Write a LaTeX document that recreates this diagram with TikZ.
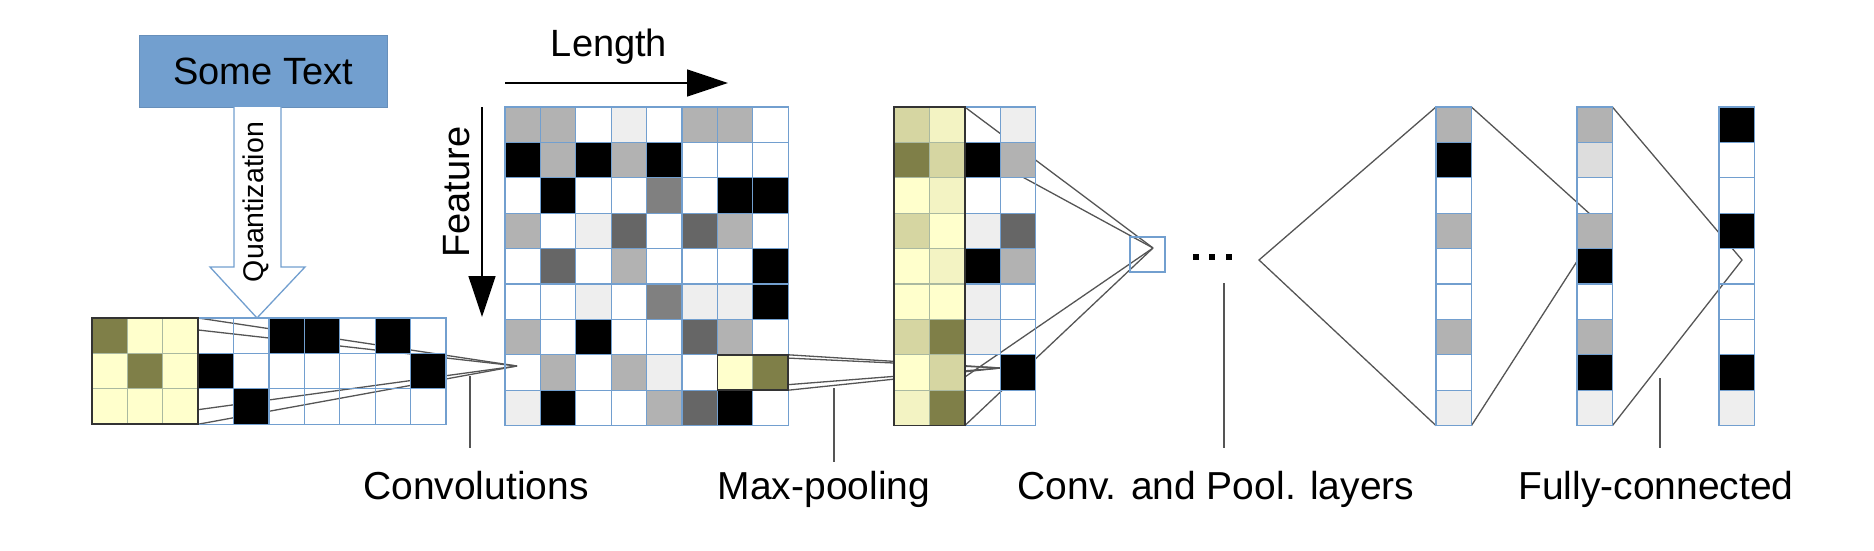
\documentclass[tikz,border=0pt]{standalone}
\usepackage{fontspec}
\setmainfont{Liberation Sans}
\usetikzlibrary{arrows.meta,backgrounds}
\definecolor{gb}{RGB}{114,159,207}
\definecolor{lg}{RGB}{85,85,85}
\definecolor{cG}{RGB}{178,178,178}
\definecolor{cL}{RGB}{238,238,238}
\definecolor{cE}{RGB}{221,221,221}
\definecolor{cM}{RGB}{128,128,128}
\definecolor{cD}{RGB}{102,102,102}
\definecolor{cY}{RGB}{255,255,204}
\definecolor{cB}{RGB}{243,243,195}
\definecolor{cA}{RGB}{214,214,162}
\definecolor{cO}{RGB}{127,127,72}
\definecolor{yb}{RGB}{170,185,160}
\tikzset{
  cell/.style={draw=gb,line width=1.3pt,minimum size=35.4pt,inner sep=0pt,outer sep=0pt},
  fW/.style={}, fK/.style={fill=black}, fG/.style={fill=cG}, fL/.style={fill=cL},
  fE/.style={fill=cE}, fM/.style={fill=cM}, fD/.style={fill=cD},
  fY/.style={fill=cY,draw=yb}, fB/.style={fill=cB,draw=yb}, fA/.style={fill=cA,draw=yb}, fO/.style={fill=cO,draw=yb},
  conn/.style={draw=lg,line width=1.3pt},
  lab/.style={font=\fontsize{39}{44}\selectfont,anchor=base},
  win/.style={draw=black!80,line width=1.5pt}
}
\begin{document}
\begin{tikzpicture}[x=1pt,y=-1pt]
\useasboundingbox (0,0) rectangle (1874,551);
% input grid
\foreach \row [count=\r from 0] in {{O,Y,Y,W,W,K,K,W,K,W},{Y,O,Y,K,W,W,W,W,W,K},{Y,Y,Y,W,K,W,W,W,W,W}}
  \foreach \c [count=\k from 0] in \row
    \node[cell,f\c] (i-\r-\k) at (92+17.7+35.4*\k,318+17.7+35.4*\r) {};
% main grid
\foreach \row [count=\r from 0] in {{G,G,W,L,W,G,G,W},{K,G,K,G,K,W,W,W},{W,K,W,W,M,W,K,K},{G,W,L,D,W,D,G,W},{W,D,W,G,W,W,W,K},{W,W,L,W,M,L,L,K},{G,W,K,W,W,D,G,W},{W,G,W,G,L,W,Y,O},{L,K,W,W,G,D,K,W}}
  \foreach \c [count=\k from 0] in \row
    \node[cell,f\c] (m-\r-\k) at (505+17.7+35.4*\k,107+17.7+35.4*\r) {};
% pooled grid
\foreach \row [count=\r from 0] in {{A,B,W,L},{O,A,K,G},{Y,B,W,W},{A,Y,L,D},{Y,B,K,G},{Y,Y,L,W},{A,O,L,W},{Y,A,W,K},{B,O,W,W}}
  \foreach \c [count=\k from 0] in \row
    \node[cell,f\c] (p-\r-\k) at (894+17.7+35.4*\k,107+17.7+35.4*\r) {};
% columns
\foreach \c [count=\r from 0] in {G,K,W,G,W,W,G,W,L}
  \node[cell,f\c] (a-\r) at (1436+17.7,107+17.7+35.4*\r) {};
\foreach \c [count=\r from 0] in {G,E,W,G,K,W,G,K,L}
  \node[cell,f\c] (b-\r) at (1577+17.7,107+17.7+35.4*\r) {};
\foreach \c [count=\r from 0] in {K,W,W,K,W,W,W,K,L}
  \node[cell,f\c] (c-\r) at (1719+17.7,107+17.7+35.4*\r) {};
\node[draw=gb,line width=1.3pt,minimum size=35pt,inner sep=0pt] (sq) at (1147.5,254.5) {};
% windows
\draw[win] (i-0-0.north west) rectangle (i-2-2.south east);
\draw[win] (m-7-6.north west) rectangle (m-7-7.south east);
\draw[win] (p-0-0.north west) rectangle (p-8-1.south east);
% convergence points
\coordinate (cv1) at (517,366);
\coordinate (cv2) at (1001,368);
\coordinate (cv3) at (1153,248);
\coordinate (dl) at (1259,260);
\coordinate (f1) at (1601,224);
\coordinate (f2) at (1742,260);
\begin{scope}[on background layer]
\foreach \a in {i-0-0.north west,i-0-2.north east,i-2-0.south west,i-2-2.south east} \draw[conn] (\a) -- (cv1);
\foreach \a in {m-7-6.north west,m-7-7.north east,m-7-6.south west,m-7-7.south east} \draw[conn] (\a) -- (cv2);
\foreach \a in {p-0-0.north west,p-0-1.north east,p-8-0.south west,p-8-1.south east} \draw[conn] (\a) -- (cv3);
\draw[conn] (a-0.north west) -- (dl) -- (a-8.south west);
\draw[conn] (a-0.north east) -- (f1) -- (a-8.south east);
\draw[conn] (b-0.north east) -- (f2) -- (b-8.south east);
\end{scope}
% dots
\foreach \x [count=\n] in {1196,1212,1229} \node[fill=black,minimum size=6pt,inner sep=0pt] (dot\n) at (\x,257) {};
% Some text box and quantization arrow
\node[fill=gb,draw=gb!90!black,line width=1pt,minimum width=248pt,minimum height=71pt,font=\fontsize{38}{44}\selectfont] (st) at (263,71.5) {Some Text};
\draw[draw=gb,line width=1.3pt,fill=white] (234,107) -- (234,267) -- (210,267) -- (257,318) -- (305,267) -- (281,267) -- (281,107);
\node[rotate=90,font=\fontsize{28.5}{32}\selectfont] (qt) at (256,202) {Quantization};
% Length / Feature arrows
\coordinate (l0) at (505,83); \coordinate (l1) at (728,83);
\coordinate (f0) at (482,107); \coordinate (f9) at (482,317);
\draw[line width=1.3pt,-{Triangle[length=41pt,width=27pt]}] (l0) -- (l1);
\draw[line width=1.3pt,-{Triangle[length=41pt,width=27pt]}] (f0) -- (f9);
\node[font=\fontsize{38}{44}\selectfont] (lt) at (609,47) {Length};
\node[rotate=90,font=\fontsize{38}{44}\selectfont] (ft) at (457,192) {Feature};
% labels
\node[lab] (t1) at (476,499) {Convolutions};
\node[lab] (t2) at (824,499) {Max-pooling};
\node[lab] (t3) at (1216,499) {Conv. and Pool. layers};
\node[lab] (t4) at (1656,499) {Fully-connected};
\coordinate (k1) at (470,376); \coordinate (k1e) at (470,448);
\coordinate (k2) at (834,388); \coordinate (k2e) at (834,462);
\coordinate (k3) at (1224,283); \coordinate (k3e) at (1224,448);
\coordinate (k4) at (1660,378); \coordinate (k4e) at (1660,448);
\foreach \n in {1,2,3,4} \draw[conn] (k\n) -- (k\n e);
\end{tikzpicture}
\end{document}
